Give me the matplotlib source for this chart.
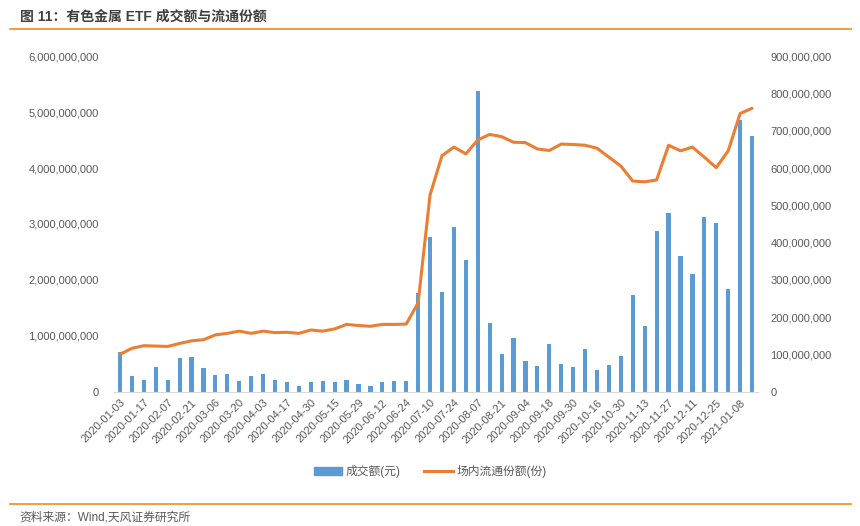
import matplotlib
matplotlib.use("Agg")
from matplotlib import pyplot as plt
from matplotlib.lines import Line2D
from matplotlib.ticker import FuncFormatter
import numpy as np

plt.rcParams['font.family'] = ['Liberation Sans', 'Noto Sans CJK SC', 'DejaVu Sans']

# weekly dates (category axis)
dates = [
    "2020-01-03", "2020-01-10", "2020-01-17", "2020-01-23", "2020-02-07", "2020-02-14",
    "2020-02-21", "2020-02-28", "2020-03-06", "2020-03-13", "2020-03-20", "2020-03-27",
    "2020-04-03", "2020-04-10", "2020-04-17", "2020-04-24", "2020-04-30", "2020-05-08",
    "2020-05-15", "2020-05-22", "2020-05-29", "2020-06-05", "2020-06-12", "2020-06-19",
    "2020-06-24", "2020-07-03", "2020-07-10", "2020-07-17", "2020-07-24", "2020-07-31",
    "2020-08-07", "2020-08-14", "2020-08-21", "2020-08-28", "2020-09-04", "2020-09-11",
    "2020-09-18", "2020-09-25", "2020-09-30", "2020-10-09", "2020-10-16", "2020-10-23",
    "2020-10-30", "2020-11-06", "2020-11-13", "2020-11-20", "2020-11-27", "2020-12-04",
    "2020-12-11", "2020-12-18", "2020-12-25", "2020-12-31", "2021-01-08", "2021-01-15",
]

# turnover, in 1e9 yuan
turnover_bn = [
    0.72, 0.29, 0.22, 0.45, 0.22, 0.61, 0.63, 0.42, 0.30, 0.32, 0.20, 0.28,
    0.32, 0.21, 0.18, 0.11, 0.17, 0.20, 0.18, 0.21, 0.15, 0.10, 0.17, 0.20,
    0.19, 1.77, 2.77, 1.79, 2.95, 2.36, 5.38, 1.23, 0.68, 0.96, 0.55, 0.46,
    0.86, 0.50, 0.45, 0.76, 0.40, 0.475, 0.65, 1.73, 1.17, 2.87, 3.20, 2.42,
    2.11, 3.12, 3.01, 1.84, 4.85, 4.58,
]

# units outstanding, in 1e6 shares
shares_mn = [
    101, 117, 124, 123, 122, 130, 137, 140, 153, 157, 163, 157,
    163, 159, 160, 157, 166, 163, 169, 181, 178, 176, 181, 181,
    182, 239, 528, 633, 656, 638, 675, 690, 684, 669, 668, 651,
    647, 664, 663, 661, 653, 629, 605, 565, 563, 568, 661, 646,
    656, 629, 601, 646, 746, 760,
]

turnover = np.array(turnover_bn) * 1e9
shares = np.array(shares_mn) * 1e6

bar_color = "#5B9BD5"
line_color = "#ED7D31"
text_color = "#595959"
rule_color = "#F08A24"

fig = plt.figure(figsize=(8.6, 5.26), dpi=100)
ax = fig.add_axes([0.1326, 0.2548, 0.7488, 0.6387])
ax2 = ax.twinx()

x = np.arange(len(dates))
ax.bar(x, turnover, width=0.35, color=bar_color, zorder=2)
ax2.plot(x, shares, color=line_color, linewidth=2.2, solid_capstyle="round", zorder=3)

ax.set_xlim(-0.5, len(dates) - 0.5)
ax.set_ylim(0, 6e9)
ax.set_yticks(np.arange(0, 6.01e9, 1e9))
ax2.set_ylim(0, 9e8)
ax2.set_yticks(np.arange(0, 9.01e8, 1e8))

fmt = FuncFormatter(lambda v, p: f"{v:,.0f}")
ax.yaxis.set_major_formatter(fmt)
ax2.yaxis.set_major_formatter(fmt)

ax.set_xticks(x[::2])
ax.set_xticklabels(dates[::2], rotation=45, ha="right", rotation_mode="anchor")

for a in (ax, ax2):
    for s in a.spines.values():
        s.set_visible(False)
    a.tick_params(length=0, colors=text_color, labelsize=8)
ax.spines["bottom"].set_visible(True)
ax.spines["bottom"].set_color("#D9D9D9")
ax.tick_params(axis="y", pad=11)
ax2.tick_params(axis="y", pad=9)
ax.tick_params(axis="x", pad=4)

# legend
handles = [
    plt.Rectangle((0, 0), 1, 1, color=bar_color),
    Line2D([0], [0], color=line_color, linewidth=2.2),
]
fig.legend(handles, ["成交额(元)", "场内流通份额(份)"], loc="center",
           bbox_to_anchor=(0.5, 0.104), ncol=2, frameon=False, fontsize=8.5,
           labelcolor=text_color, handlelength=2.4, handletextpad=0.3,
           columnspacing=2.0)

# title, rules and source
fig.text(0.023, 0.968, "图 11：有色金属 ETF 成交额与流通份额", fontsize=10,
         fontweight="bold", color="#404040", va="center")
fig.add_artist(Line2D([0.012, 0.99], [0.945, 0.945], color=rule_color, linewidth=1.2))
fig.add_artist(Line2D([0.012, 0.99], [0.042, 0.042], color=rule_color, linewidth=1.2))
fig.text(0.023, 0.017, "资料来源：Wind,天风证券研究所", fontsize=8.5,
         color=text_color, va="center")

fig.savefig("out.png", dpi=100)
